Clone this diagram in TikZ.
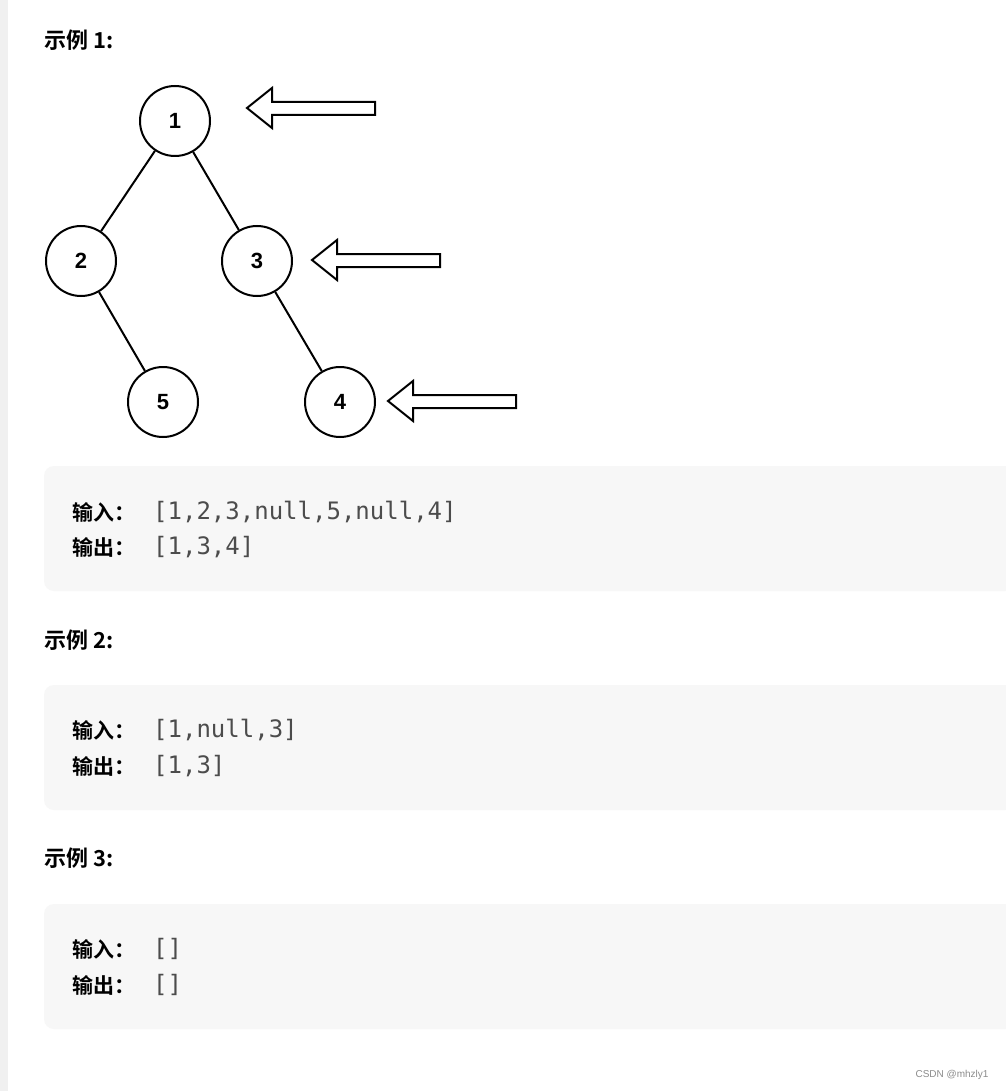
\documentclass[tikz,border=0pt]{standalone}
\usepackage{fontspec}
\setmainfont{Liberation Sans}
\newfontfamily\cjk{Noto Sans CJK SC}[BoldFont={Noto Sans CJK SC Bold}]
\newfontfamily\monof{DejaVu Sans Mono}
\begin{document}
\begin{tikzpicture}[x=1pt,y=-1pt,
  tn/.style={circle,draw,line width=2pt,minimum size=70pt,inner sep=0pt,font=\fontsize{22}{22}\selectfont\bfseries},
  edge/.style={line width=2pt},
  barrow/.style={draw,line width=2pt,fill=white},
  codebox/.style={fill=black!3,rounded corners=10pt},
  hd/.style={anchor=west,font=\cjk\bfseries\fontsize{22}{22}\selectfont,inner sep=0pt},
  lab/.style={anchor=west,font=\cjk\bfseries\fontsize{21}{21}\selectfont,inner sep=0pt},
  code/.style={anchor=west,font=\monof\fontsize{24}{24}\selectfont,text=black!70,inner sep=0pt}]
\useasboundingbox (0,0) rectangle (1005,1091);
\fill[white] (0,0) rectangle (1005,1091);
\fill[black!6] (0,0) rectangle (8,1091);
\node[hd] (h1) at (44,40) {示例 1:};
\node[tn] (n1) at (175,121) {1};
\node[tn] (n2) at (81,261) {2};
\node[tn] (n3) at (257,261) {3};
\node[tn] (n5) at (163,402) {5};
\node[tn] (n4) at (340,402) {4};
\draw[edge] (n1) -- (n2);
\draw[edge] (n1) -- (n3);
\draw[edge] (n2) -- (n5);
\draw[edge] (n3) -- (n4);
\foreach \x/\y in {247/108, 312/260, 388/401}{
  \draw[barrow] (\x,\y) -- ++(25,-20) -- ++(0,14) -- ++(103,0) -- ++(0,13) -- ++(-103,0) -- ++(0,13) -- cycle;
}
\fill[codebox] (44,466) rectangle (1020,591);
\node[lab] (i1) at (72,512) {输入：};
\node[code] (c1) at (153,512) {[1,2,3,null,5,null,4]};
\node[lab] (o1) at (72,547) {输出：};
\node[code] (d1) at (153,547) {[1,3,4]};
\node[hd] (h2) at (44,640) {示例 2:};
\fill[codebox] (44,685) rectangle (1020,810);
\node[lab] (i2) at (72,730) {输入：};
\node[code] (c2) at (153,730) {[1,null,3]};
\node[lab] (o2) at (72,766) {输出：};
\node[code] (d2) at (153,766) {[1,3]};
\node[hd] (h3) at (44,858) {示例 3:};
\fill[codebox] (44,904) rectangle (1020,1029);
\node[lab] (i3) at (72,949) {输入：};
\node[code] (c3) at (153,949) {[]};
\node[lab] (o3) at (72,985) {输出：};
\node[code] (d3) at (153,985) {[]};
\node[anchor=east,font=\fontsize{10}{10}\selectfont,text=black!45] (wm) at (992,1075) {CSDN @mhzly1};
\end{tikzpicture}
\end{document}
